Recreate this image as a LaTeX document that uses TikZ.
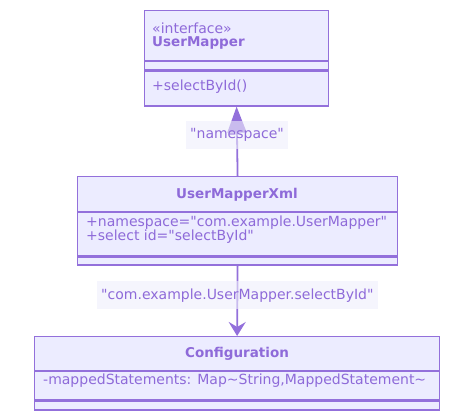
\documentclass[tikz,border=0pt]{standalone}
\usepackage{fontspec}
\setmainfont{DejaVu Sans}
\usetikzlibrary{arrows.meta}
\definecolor{umlfill}{HTML}{ECECFF}
\definecolor{umlline}{HTML}{9370DB}
\definecolor{umltext}{HTML}{8E6AD9}
\definecolor{lblfill}{HTML}{EEEEFB}
\newcommand{\dq}{\textquotedbl}
\begin{document}
\begin{tikzpicture}[x=1pt,y=-1pt,font=\fontsize{14}{16}\selectfont,
  part/.style={draw=umlline,fill=umlfill,line width=1.2pt,inner sep=0pt,anchor=north west},
  txt/.style={text=umltext,inner sep=0pt},
  head/.style={txt,font=\fontsize{13.5}{16}\selectfont\bfseries},
  link/.style={draw=umlline,line width=1.8pt},
  elbl/.style={fill=lblfill,fill opacity=0.6,text opacity=1,text=umltext,
    inner xsep=4pt,minimum height=28pt}]
  \useasboundingbox (0,0) rectangle (463,415);
  % UserMapper
  \node[part,minimum width=184,minimum height=50] (um-head) at (144,10) {};
  \node[part,minimum width=184,minimum height=8] (um-attr) at (um-head.south west) {};
  \node[part,minimum width=184,minimum height=35] (um-meth) at (um-attr.south west) {};
  \node[txt,anchor=base west] (um-stereo) at (152,33) {«interface»};
  \node[head,anchor=base west] (um-name) at (152,46) {UserMapper};
  \node[txt,anchor=base west] (um-op) at (152,90) {+selectById()};
  % UserMapperXml
  \node[part,minimum width=320,minimum height=35] (xml-head) at (77,176) {};
  \node[part,minimum width=320,minimum height=43] (xml-attr) at (xml-head.south west) {};
  \node[part,minimum width=320,minimum height=8] (xml-meth) at (xml-attr.south west) {};
  \node[head,anchor=base] (xml-name) at (237,198) {UserMapperXml};
  \node[txt,anchor=base west] (xml-ns) at (86,226) {+namespace=\dq com.example.UserMapper\dq};
  \node[txt,anchor=base west] (xml-sel) at (86,240) {+select id=\dq selectById\dq};
  % Configuration
  \node[part,minimum width=405,minimum height=34] (cfg-head) at (34,336) {};
  \node[part,minimum width=405,minimum height=28] (cfg-attr) at (cfg-head.south west) {};
  \node[part,minimum width=405,minimum height=9] (cfg-meth) at (cfg-attr.south west) {};
  \node[head,anchor=base] (cfg-name) at (237,357) {Configuration};
  \node[txt,anchor=base west] (cfg-map) at (43,384)
    {-mappedStatements: Map\textasciitilde String,MappedStatement\textasciitilde};
  % links
  \draw[link,-{Triangle[width=19pt,length=26pt]}] (xml-head.north)
    -- node[elbl,pos=0.59] (ns-lbl) {\dq namespace\dq} (um-meth.south);
  \draw[link,-{Stealth[width=17pt,length=14pt,inset=5pt]}] (xml-meth.south)
    -- node[elbl,pos=0.42] (id-lbl) {\dq com.example.UserMapper.selectById\dq} (cfg-head.north);
\end{tikzpicture}
\end{document}
